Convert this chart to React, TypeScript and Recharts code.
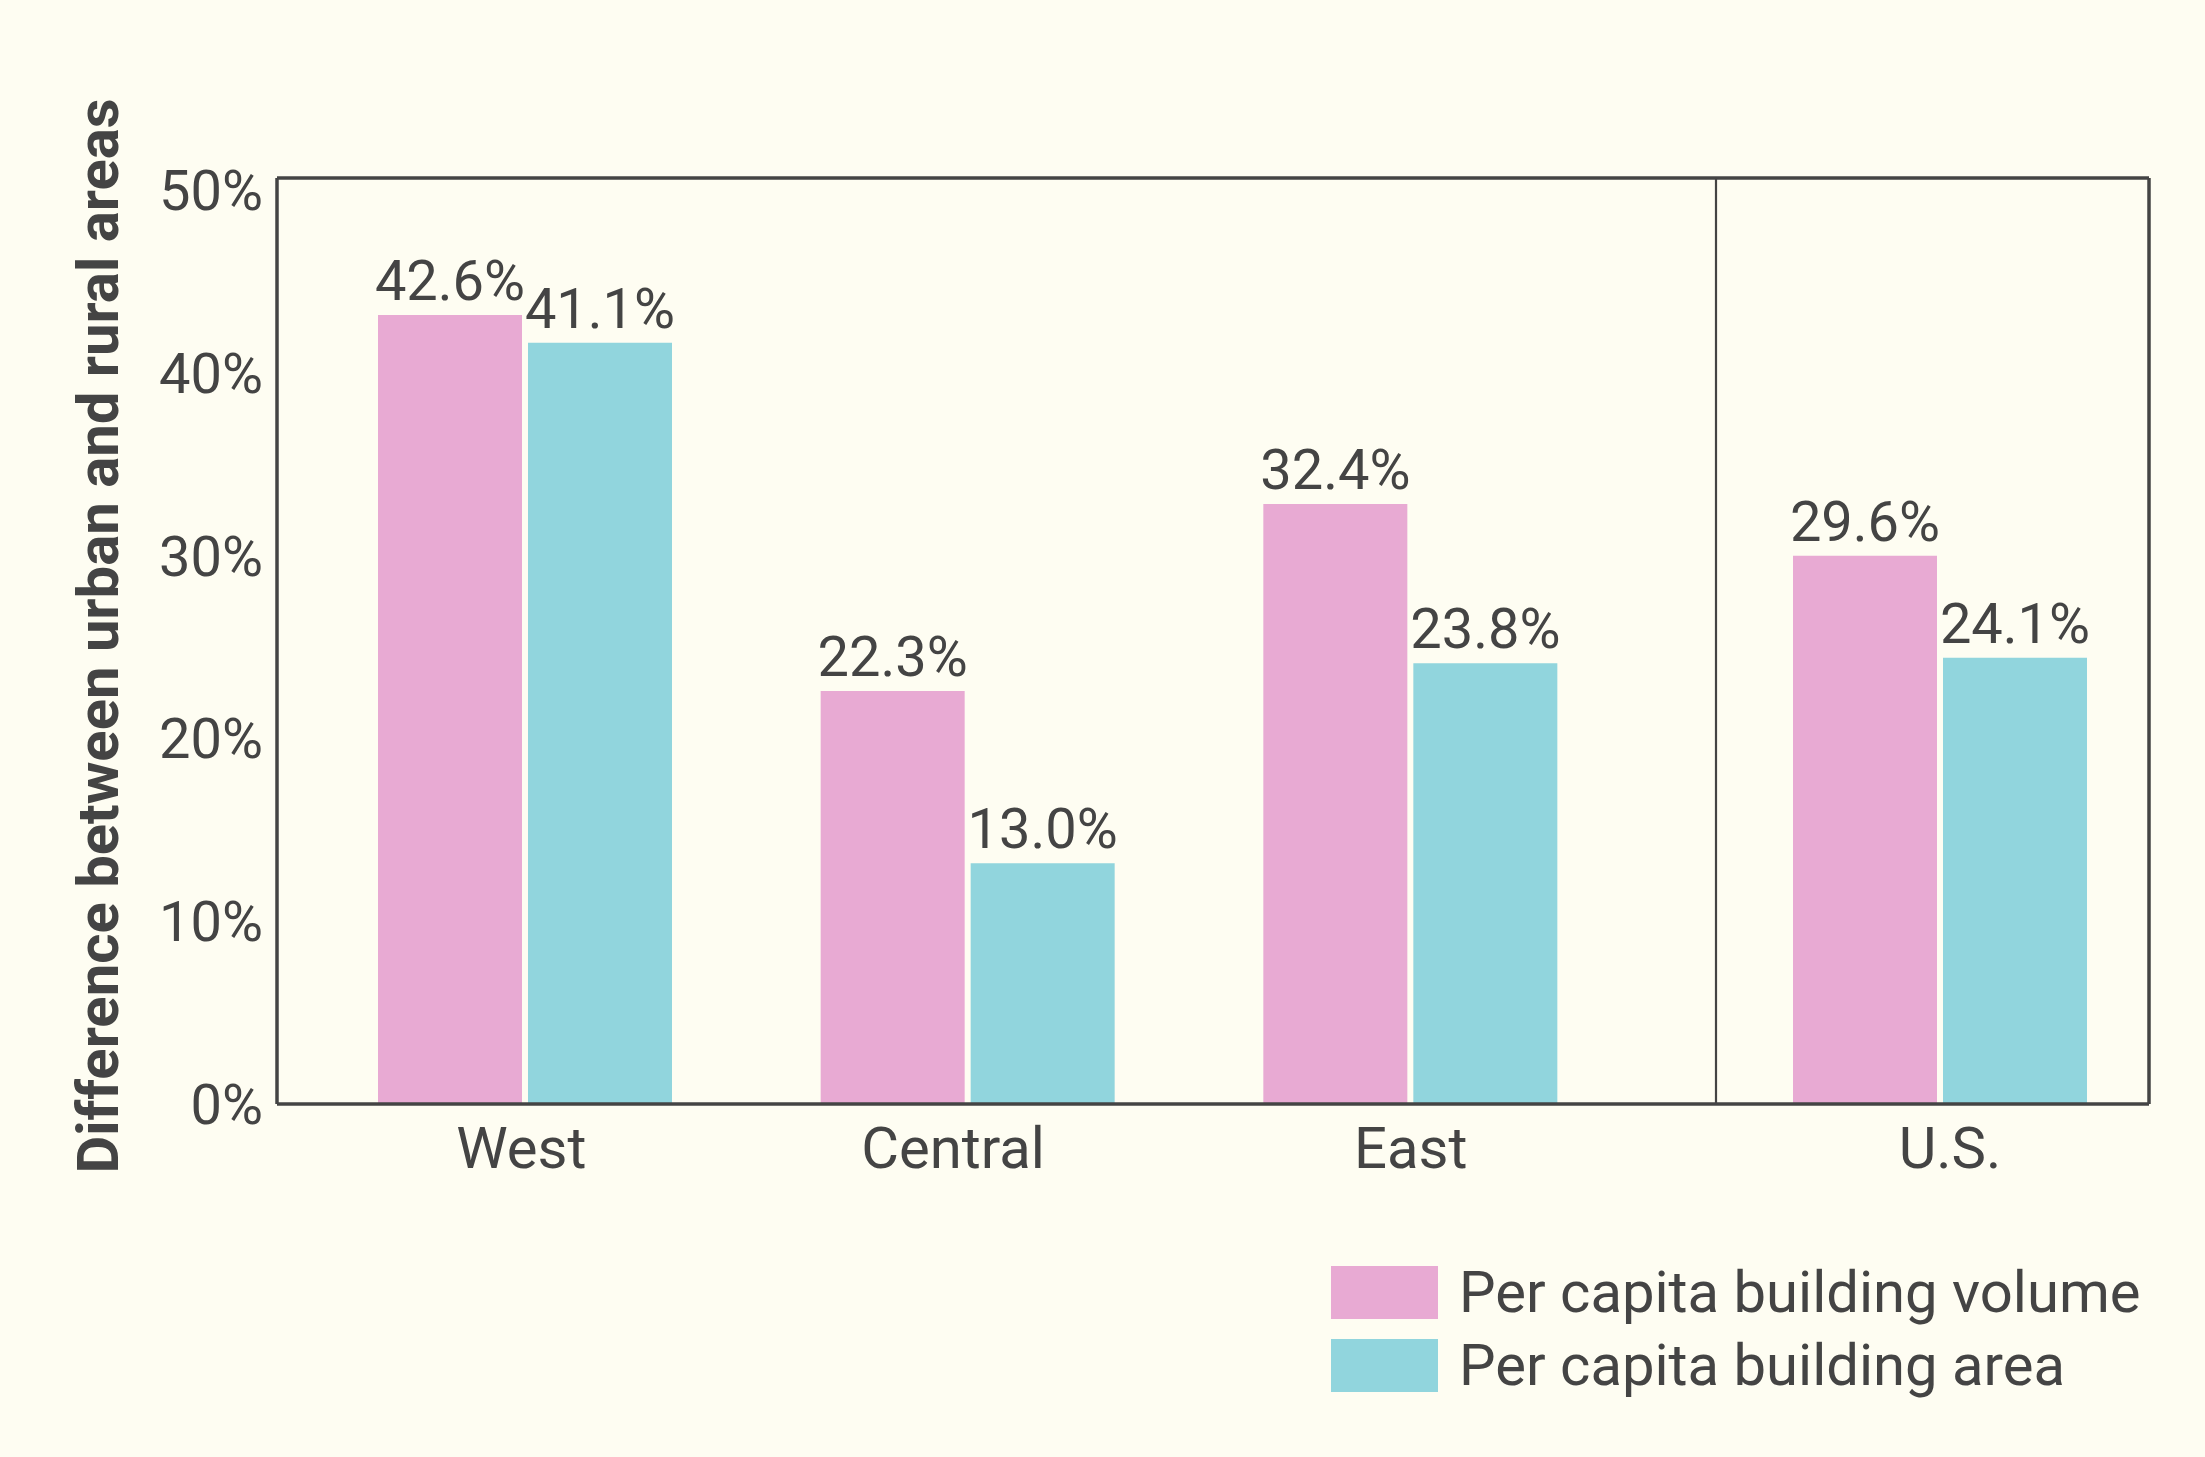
import React from 'react';
import { BarChart, Bar, XAxis, YAxis, ReferenceLine, LabelList, Legend } from 'recharts';

// ---------- data ----------
const categories = ['West', 'Central', 'East'];
const volumeValues = [42.6, 22.3, 32.4];
const areaValues = [41.1, 13.0, 23.8];
const usCategories = ['U.S.'];
const usVolumeValues = [29.6];
const usAreaValues = [24.1];
const yTicks = [0, 10, 20, 30, 40, 50];
const seriesNames = ['Per capita building volume', 'Per capita building area'];
const yTitle = 'Difference between urban and rural areas';

// ---------- styles ----------
const W = 2205;
const H = 1457;
const BG = '#FEFDF2';
const INK = '#444444';
const PINK = '#E8AAD3';
const CYAN = '#91D5DD';
const FONT = 'Roboto, "Noto Sans", sans-serif';
const PLOT_TOP = 178;
const PLOT_BOTTOM = 1104;
const PLOT_LEFT = 277;
const DIVIDER = 1716;
const PLOT_RIGHT = 2149;
const X_AXIS_H = 100;
const Y_AXIS_W = 200;
const BORDER = 3.5;
// small horizontal nudges of category labels, as in the source figure
const xLabelNudge: Record<string, number> = { West: -4, Central: -15, East: 0, 'U.S.': 10 };

const regionData = categories.map((c, i) => ({ region: c, volume: volumeValues[i], area: areaValues[i] }));
const usData = usCategories.map((c, i) => ({ region: c, volume: usVolumeValues[i], area: usAreaValues[i] }));
const seriesColors = [PINK, CYAN];

const fmt = (v: any) => `${Number(v).toFixed(1)}%`;

const XTick = (props: any) => {
  const { x, y, payload } = props;
  const label = String(payload && payload.value);
  const dx = xLabelNudge[label] || 0;
  return (
    <text x={x + dx} y={y} dy="0.71em" textAnchor="middle" fontSize={58} fill={INK} fontFamily={FONT}>
      {label}
    </text>
  );
};

const YTick = (props: any) => {
  const { x, y, payload } = props;
  const v = Number(payload && payload.value);
  return (
    <text x={x} y={y + v * 0.25} dy="0.355em" textAnchor="end" fontSize={56} fill={INK} fontFamily={FONT}>
      {`${v}%`}
    </text>
  );
};

const renderTitle = (props: any) => {
  const vb = props && props.viewBox && typeof props.viewBox.x === 'number'
    ? props.viewBox
    : { x: PLOT_LEFT - Y_AXIS_W, y: PLOT_TOP, width: Y_AXIS_W, height: PLOT_BOTTOM - PLOT_TOP };
  const cx = vb.x + 41;
  const cy = vb.y + vb.height / 2 - 5;
  return (
    <text
      x={cx}
      y={cy}
      transform={`rotate(-90 ${cx} ${cy})`}
      textAnchor="middle"
      fontSize={58}
      fontWeight={700}
      fontFamily={FONT}
      fill={INK}
    >
      {yTitle}
    </text>
  );
};

const renderLegend = () => (
  <div style={{ display: 'flex', flexDirection: 'column', gap: 20 }}>
    {seriesNames.map((name, i) => (
      <div key={name} style={{ display: 'flex', alignItems: 'center', height: 53 }}>
        <div style={{ width: 107, height: 53, background: seriesColors[i], flex: 'none' }} />
        <span
          style={{
            marginLeft: 21,
            fontSize: 58,
            fontFamily: FONT,
            color: INK,
            lineHeight: '53px',
            whiteSpace: 'nowrap',
          }}
        >
          {name}
        </span>
      </div>
    ))}
  </div>
);

const labelStyle = { fontSize: 56, fill: INK, fontFamily: FONT };

export default function App() {
  const marginBottom = H - PLOT_BOTTOM - X_AXIS_H;
  return (
    <div style={{ position: 'absolute', left: 0, top: 0, width: W, height: H, background: BG, overflow: 'hidden' }}>
      <div style={{ position: 'absolute', left: 0, top: 0 }}>
        <BarChart
          width={W}
          height={H}
          data={regionData}
          margin={{ top: PLOT_TOP, right: W - DIVIDER, bottom: marginBottom, left: PLOT_LEFT - Y_AXIS_W }}
          barSize={144}
          barGap={6}
        >
          <XAxis
            dataKey="region"
            height={X_AXIS_H}
            interval={0}
            padding={{ left: 27, right: 84 }}
            axisLine={{ stroke: INK, strokeWidth: BORDER }}
            tickLine={false}
            tickSize={0}
            tickMargin={23}
            tick={<XTick />}
          />
          <YAxis
            width={Y_AXIS_W}
            domain={[0, 50]}
            ticks={yTicks}
            interval={0}
            axisLine={{ stroke: INK, strokeWidth: BORDER }}
            tickLine={false}
            tickSize={0}
            tickMargin={14}
            tick={<YTick />}
            label={{ content: renderTitle }}
          />
          <ReferenceLine y={50} stroke={INK} strokeWidth={BORDER} />
          <Bar dataKey="volume" name={seriesNames[0]} fill={PINK} isAnimationActive={false}>
            <LabelList dataKey="volume" position="top" offset={15} formatter={fmt} style={labelStyle} />
          </Bar>
          <Bar dataKey="area" name={seriesNames[1]} fill={CYAN} isAnimationActive={false}>
            <LabelList dataKey="area" position="top" offset={15} formatter={fmt} style={labelStyle} />
          </Bar>
          <Legend
            layout="vertical"
            align="center"
            verticalAlign="middle"
            content={renderLegend}
            wrapperStyle={{ left: 1331, top: 1266, width: 870, height: 130 }}
          />
        </BarChart>
      </div>
      <div style={{ position: 'absolute', left: 0, top: 0 }}>
        <BarChart
          width={W}
          height={H}
          data={usData}
          margin={{ top: PLOT_TOP, right: W - PLOT_RIGHT - 1, bottom: marginBottom, left: DIVIDER - 1 }}
          barSize={144}
          barGap={6}
        >
          <XAxis
            dataKey="region"
            height={X_AXIS_H}
            interval={0}
            padding={{ left: 15, right: 0 }}
            axisLine={{ stroke: INK, strokeWidth: BORDER }}
            tickLine={false}
            tickSize={0}
            tickMargin={23}
            tick={<XTick />}
          />
          <YAxis
            width={1}
            domain={[0, 50]}
            ticks={yTicks}
            axisLine={{ stroke: INK, strokeWidth: 2.2 }}
            tickLine={false}
            tick={false}
          />
          <YAxis
            yAxisId="r"
            orientation="right"
            width={1}
            domain={[0, 50]}
            ticks={yTicks}
            axisLine={{ stroke: INK, strokeWidth: BORDER }}
            tickLine={false}
            tick={false}
          />
          <ReferenceLine y={50} stroke={INK} strokeWidth={BORDER} />
          <Bar dataKey="volume" name={seriesNames[0]} fill={PINK} isAnimationActive={false}>
            <LabelList dataKey="volume" position="top" offset={15} formatter={fmt} style={labelStyle} />
          </Bar>
          <Bar dataKey="area" name={seriesNames[1]} fill={CYAN} isAnimationActive={false}>
            <LabelList dataKey="area" position="top" offset={15} formatter={fmt} style={labelStyle} />
          </Bar>
        </BarChart>
      </div>
    </div>
  );
}
